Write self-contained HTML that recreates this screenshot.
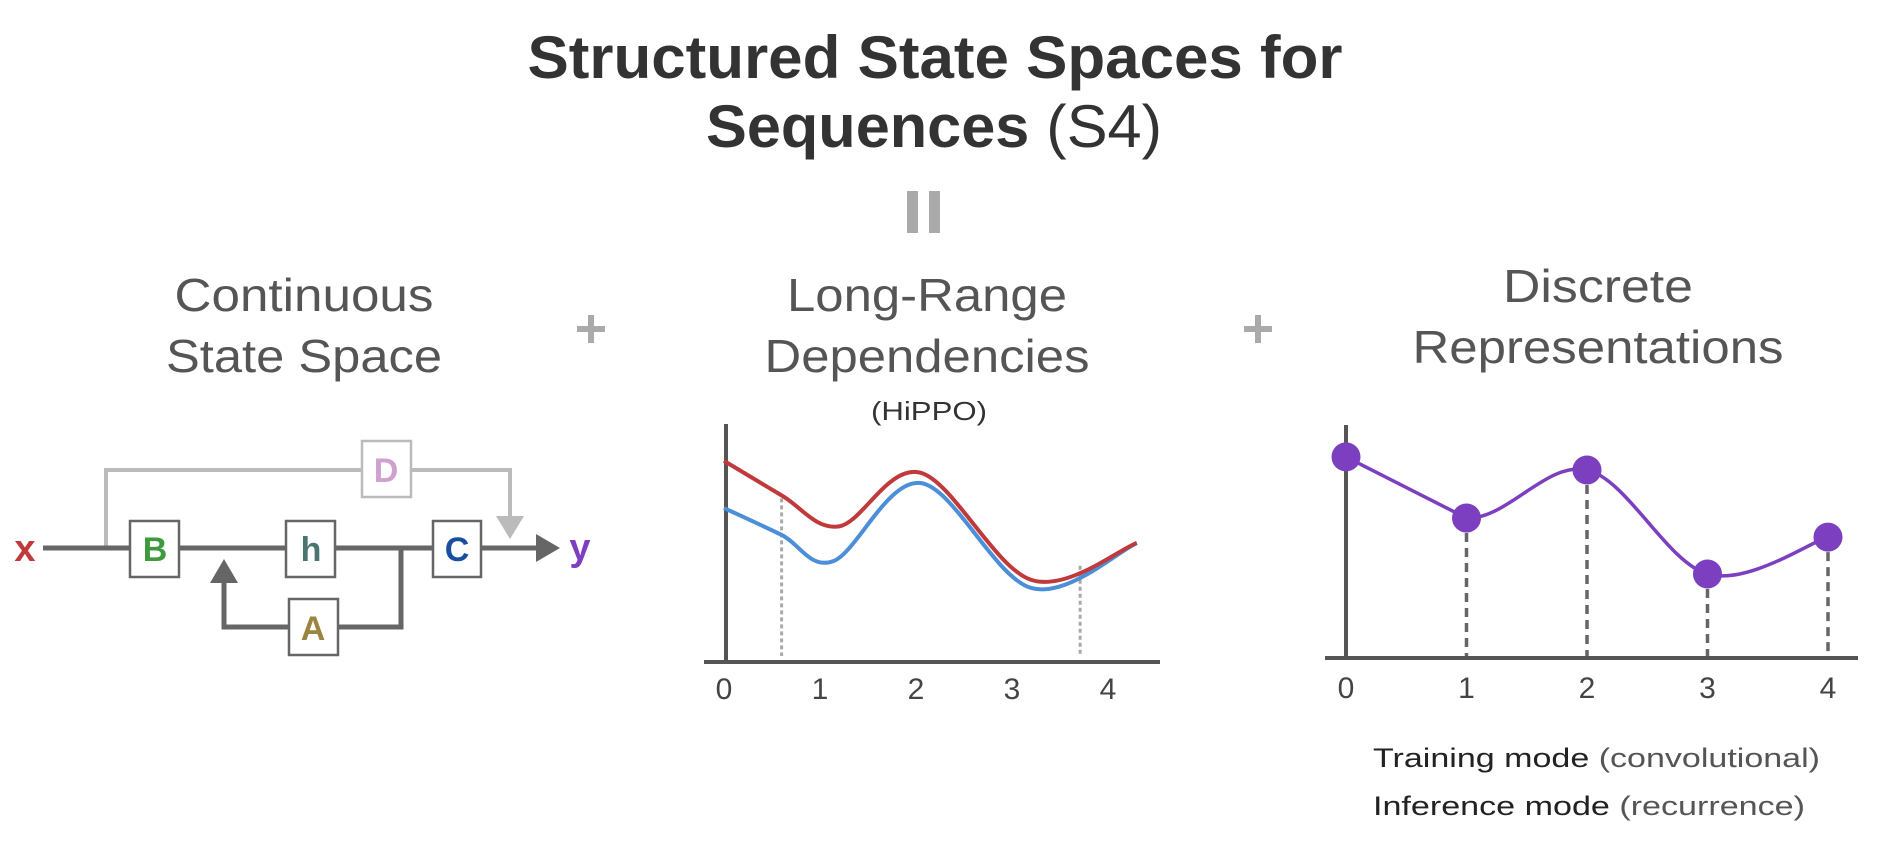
<!DOCTYPE html>
<html><head><meta charset="utf-8"><style>
html,body{margin:0;padding:0;background:#fff;}
svg{display:block;font-family:"Liberation Sans",sans-serif;}
</style></head><body>
<svg id="s" width="1892" height="844" viewBox="0 0 1892 844">
<g fill="#333">
<text x="935" y="78" text-anchor="middle" font-size="60" font-weight="bold" textLength="815" lengthAdjust="spacingAndGlyphs">Structured State Spaces for</text>
<text x="934" y="147" text-anchor="middle" font-size="60" textLength="456" lengthAdjust="spacingAndGlyphs"><tspan font-weight="bold">Sequences</tspan> (S4)</text>
</g>
<g fill="#aaa">
<rect x="907" y="191" width="11" height="42"/><rect x="929" y="191" width="11" height="42"/>
</g>
<g fill="#555" font-size="46">
<text x="304" y="311" text-anchor="middle" textLength="259" lengthAdjust="spacingAndGlyphs">Continuous</text>
<text x="304" y="372" text-anchor="middle" textLength="276" lengthAdjust="spacingAndGlyphs">State Space</text>
<text x="927" y="311" text-anchor="middle" textLength="280" lengthAdjust="spacingAndGlyphs">Long-Range</text>
<text x="927" y="372" text-anchor="middle" textLength="325" lengthAdjust="spacingAndGlyphs">Dependencies</text>
<text x="929" y="420" text-anchor="middle" font-size="26" fill="#333" textLength="116" lengthAdjust="spacingAndGlyphs">(HiPPO)</text>
<text x="1598" y="302" text-anchor="middle" textLength="190" lengthAdjust="spacingAndGlyphs">Discrete</text>
<text x="1598" y="363" text-anchor="middle" textLength="371" lengthAdjust="spacingAndGlyphs">Representations</text>
</g>
<g fill="#aaa">
<rect x="577" y="326" width="28" height="6"/><rect x="588" y="315" width="6" height="28"/>
<rect x="1244" y="326" width="28" height="6"/><rect x="1255" y="315" width="6" height="28"/>
</g>
<g>
<polyline points="106,548 106,470 510,470 510,520" fill="none" stroke="#bbb" stroke-width="4"/>
<polygon points="496,516 524,516 510,539" fill="#bbb"/>
<line x1="43" y1="548" x2="540" y2="548" stroke="#666" stroke-width="5"/>
<polygon points="536,534 560,548 536,562" fill="#666"/>
<polyline points="401,548 401,627 224,627 224,580" fill="none" stroke="#666" stroke-width="5"/>
<polygon points="210,583 238,583 224,559" fill="#666"/>
<g font-weight="bold" font-size="34" text-anchor="middle">
<rect x="362" y="441" width="49" height="56" fill="#fff" stroke="#bbb" stroke-width="2.5"/>
<text x="386" y="482" fill="#d0a0d0">D</text>
<rect x="130" y="521" width="49" height="56" fill="#fff" stroke="#666" stroke-width="2.5"/>
<text x="155" y="561" fill="#3f9a3f">B</text>
<rect x="286" y="521" width="49" height="56" fill="#fff" stroke="#666" stroke-width="2.5"/>
<text x="311" y="561" fill="#4a7570">h</text>
<rect x="433" y="521" width="48" height="56" fill="#fff" stroke="#666" stroke-width="2.5"/>
<text x="457" y="561" fill="#1a4ea0">C</text>
<rect x="289" y="599" width="49" height="56" fill="#fff" stroke="#666" stroke-width="2.5"/>
<text x="313" y="640" fill="#9a8540">A</text>
<text x="25" y="561" font-size="38" fill="#c0393b">x</text>
<text x="580" y="560" font-size="38" fill="#7b3fc0">y</text>
</g>
</g>
<g id="hippo"></g>
<g id="disc"></g>
<g font-size="27">
<text x="1373" y="767" fill="#222" textLength="447" lengthAdjust="spacingAndGlyphs">Training mode <tspan fill="#555">(convolutional)</tspan></text>
<text x="1373" y="815" fill="#222" textLength="432" lengthAdjust="spacingAndGlyphs">Inference mode <tspan fill="#555">(recurrence)</tspan></text>
</g>
</svg>
<script>
const hippoRedX = [0, 0.6, 1.2, 2.05, 3.2, 4.3];
const hippoRedY = [8.45, 7.0, 5.7, 7.95, 3.45, 5.0];
const hippoBlueX = [0, 0.6, 1.14, 2.05, 3.2, 4.3];
const hippoBlueY = [6.47, 5.34, 4.24, 7.52, 3.11, 5.0];
const hippoDropX = [0.6, 3.71];
const tickLabels = ["0", "1", "2", "3", "4"];
const discreteX = [0, 1, 2, 3, 4];
const discreteY = [8.45, 5.88, 7.9, 3.53, 5.08];

const NS = "http://www.w3.org/2000/svg";
function mk(tag, attrs, parent){const e=document.createElementNS(NS,tag);for(const k in attrs)e.setAttribute(k,attrs[k]);parent.appendChild(e);return e;}
function spline(pts, straightFirst){
  let d = "M"+pts[0][0]+","+pts[0][1];
  for(let i=0;i<pts.length-1;i++){
    const p0=pts[Math.max(i-1,0)],p1=pts[i],p2=pts[i+1],p3=pts[Math.min(i+2,pts.length-1)];
    if(straightFirst && i===0){d+=" L"+p2[0]+","+p2[1];continue;}
    const c1=[p1[0]+(p2[0]-p0[0])/6,p1[1]+(p2[1]-p0[1])/6];
    const c2=[p2[0]-(p3[0]-p1[0])/6,p2[1]-(p3[1]-p1[1])/6];
    d+=" C"+c1[0]+","+c1[1]+" "+c2[0]+","+c2[1]+" "+p2[0]+","+p2[1];
  }
  return d;
}
(function(){
  const g=document.getElementById("hippo");
  const xs=v=>724+v*96, ys=v=>662-v*23.8;
  const ya=mk("line",{x1:726,y1:424,x2:726,y2:664,stroke:"#555","stroke-width":4},g);
  
  
  const xa=mk("line",{x1:704,y1:662,x2:1160,y2:662,stroke:"#555","stroke-width":4},g);
  
  
  const redPts=hippoRedX.map((x,i)=>[xs(x),ys(hippoRedY[i])]);
  const bluePts=hippoBlueX.map((x,i)=>[xs(x),ys(hippoBlueY[i])]);
  function interpY(pts,x){for(let i=0;i<pts.length-1;i++){if(x>=pts[i][0]&&x<=pts[i+1][0]){const t=(x-pts[i][0])/(pts[i+1][0]-pts[i][0]);return pts[i][1]+t*(pts[i+1][1]-pts[i][1]);}}return pts[pts.length-1][1];}
  hippoDropX.forEach((v,i)=>{
    const x=xs(v), top=Math.min(interpY(redPts,x),interpY(bluePts,x));
    const dl=mk("line",{x1:x,y1:top+3,x2:x,y2:656,stroke:"#aaa","stroke-width":3,"stroke-dasharray":"4,3"},g);
    
    
  });
  const b=mk("path",{d:spline(bluePts,false),fill:"none",stroke:"#4a8fd8","stroke-width":4},g);
  
  
  const r=mk("path",{d:spline(redPts,true),fill:"none",stroke:"#c0393b","stroke-width":4},g);
  
  
  tickLabels.forEach((t,i)=>{
    const tx=mk("text",{x:xs(i),y:699,"text-anchor":"middle","font-size":30,fill:"#444"},g);
    tx.textContent=t;
    
    
  });
})();
(function(){
  const g=document.getElementById("disc");
  const xs=v=>1346+v*120.5, ys=v=>658-v*23.8;
  const ya=mk("line",{x1:1346,y1:425,x2:1346,y2:660,stroke:"#555","stroke-width":4},g);
  
  
  const xa=mk("line",{x1:1325,y1:658,x2:1858,y2:658,stroke:"#555","stroke-width":4},g);
  
  
  const pts=discreteX.map((x,i)=>[xs(x),ys(discreteY[i])]);
  pts.forEach((p,i)=>{
    if(i===0)return;
    const dl=mk("line",{x1:p[0],y1:p[1],x2:p[0],y2:656,stroke:"#666","stroke-width":3.5,"stroke-dasharray":"9,6"},g);
    
    
  });
  const c=mk("path",{d:spline(pts,true),fill:"none",stroke:"#7b3fbf","stroke-width":3.5},g);
  
  
  pts.forEach(p=>{
    const dot=mk("circle",{cx:p[0],cy:p[1],r:14.5,fill:"#7b3fbf"},g);
    
    
  });
  tickLabels.forEach((t,i)=>{
    const tx=mk("text",{x:xs(i),y:698,"text-anchor":"middle","font-size":30,fill:"#444"},g);
    tx.textContent=t;
    
    
  });
})();
</script>
</body></html>
